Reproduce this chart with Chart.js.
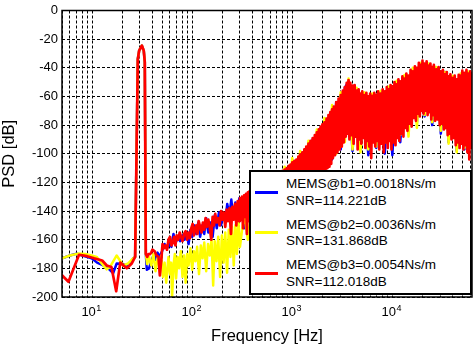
<!DOCTYPE html>
<html>
<head>
<meta charset="utf-8">
<script src="https://cdn.jsdelivr.net/npm/chart.js@4.4.1/dist/chart.umd.min.js"></script>
<style>
  html, body { margin: 0; padding: 0; background: #fff; }
  #wrap { position: relative; width: 474px; height: 348px; font-family: "Liberation Sans", Arial, sans-serif; }
  #psdChart { position: absolute; left: 0; top: 0; }
  #legendBox { position: absolute; left: 249px; top: 170px; width: 223px; height: 125px; box-sizing: border-box; border: 2px solid #000; background: #fff; }
  .swatch { position: absolute; left: 255px; width: 23px; height: 3px; }
  .entry { position: absolute; left: 286px; font-size: 13.5px; line-height: 16.7px; color: #000; white-space: nowrap; }
</style>
</head>
<body>
<div id="wrap">
  <canvas id="psdChart" width="474" height="348"></canvas>
  <div id="legendBox"></div>
</div>
<script>
// MEMS@b1 (blue)
const b1Freq = [5.0, 6.0, 7.0, 8.0, 9.9, 11.2, 12.9, 14.5, 16.2, 17.6, 20.4, 22.9, 25.7, 26.9,
  28.6, 29.5, 31.4, 32.8, 33.6, 34.4,
  35.2, 37, 39, 41, 43, 45, 47, 50, 53, 56, 59, 62, 65, 68, 72, 76, 80, 84, 88, 92, 96, 100,
  105, 110, 115, 120, 126, 132, 138, 145, 152, 160, 168, 176, 185, 194, 204, 214, 224, 235, 246, 258, 270, 283, 296,
  330, 360, 395, 435, 475, 525, 575, 630, 690, 760, 840, 920, 1000, 1100, 1200, 1320, 1450, 1600, 1760, 1920,
  2100, 2300, 2500, 2750, 3050, 3350, 3650, 4000, 4400, 4800, 5250, 5750, 6300, 6900, 7600, 8400, 9200,
  10000, 11000, 12000, 13200, 14500, 16000, 17600, 19200, 21000, 23000, 25000, 27500, 30500, 33500, 36500,
  40000, 44000, 48000, 52500, 57500, 62500];
const b1Psd = [-173, -171, -169.7, -171, -173, -176, -178, -180, -183.4, -176.6, -177, -179, -173, -172,
  -34, -28, -24.5, -28, -36, -170,
  -181, -180, -175, -171, -174, -169, -172, -168, -163, -166, -163, -165, -156, -162, -159, -161, -157, -160, -155, -163, -153, -158,
  -150, -156, -148, -158, -150, -156, -145, -155, -148, -158, -143, -152, -141, -150, -142, -148, -135, -143, -132, -145, -134, -147, -131,
  -152, -129, -158, -126, -140, -122, -138, -119, -135, -115, -132, -110, -130, -105, -128, -98, -125, -90, -120, -82,
  -112, -75, -104, -64, -97, -54, -49.5, -98, -56, -97, -58, -101, -60, -96, -57, -100, -54,
  -101, -50, -92, -46, -85, -41, -78, -37, -74, -37.5, -80, -40, -86, -43, -92,
  -46, -98, -45, -97, -43, -46];

// MEMS@b2 (yellow)
const b2Freq = [5.0, 6.0, 7.2, 8.5, 9.9, 11.1, 12.3, 14.0, 15.1, 17.6, 20.4, 22.9, 25.7, 26.9,
  28.6, 29.5, 31.4, 32.8, 33.6, 34.4,
  35.5, 37, 39, 41, 43, 45, 47, 49, 51, 53, 55, 58, 60, 61.5, 63, 65, 67, 69, 71.5, 74, 77, 80, 83, 86, 89, 92, 96,
  100, 104, 108, 112, 117, 122, 127, 132, 138, 144, 150, 156, 162, 168, 175, 182, 190, 198, 206, 214, 223, 232, 241,
  250, 260, 270, 280, 290, 300,
  330, 360, 395, 435, 475, 525, 575, 630, 690, 760, 840, 920, 1000, 1100, 1200, 1320, 1450, 1600, 1760, 1920,
  2100, 2300, 2500, 2750, 3050, 3350, 3650, 4000, 4400, 4800, 5250, 5750, 6300, 6900, 7600, 8400, 9200,
  10000, 11000, 12000, 13200, 14500, 16000, 17600, 19200, 21000, 23000, 25000, 27500, 30500, 33500, 36500,
  40000, 44000, 48000, 52500, 57500, 62500];
const b2Psd = [-173, -171, -169.7, -170, -171, -172, -176, -180.7, -179, -171, -178, -176.6, -173, -172,
  -34, -28, -24.5, -28, -36, -170,
  -177, -172, -178, -170, -182, -173, -178, -171, -186, -176, -190, -172, -184, -176, -200, -178, -170, -187, -172, -180, -168, -186, -171, -190, -170, -178, -166,
  -181, -168, -175, -165, -184, -164, -173, -162, -182, -163, -171, -160, -192, -161, -175, -158, -186, -157, -176, -155, -183, -153, -172,
  -151, -178, -150, -170, -148, -165,
  -142, -160, -135, -152, -127, -145, -120, -140, -115, -135, -109, -130, -103, -127, -98, -122, -91, -118, -83, -112,
  -75, -108, -66, -100, -57, -92, -47.5, -97, -54, -99, -57, -97, -58, -95, -56, -92, -53,
  -90, -49, -87, -45, -88, -40, -82, -36.5, -73, -37, -78, -39.5, -84, -43, -93,
  -45.5, -99, -44, -96, -42.5, -45];

// MEMS@b3 (red)
const b3Freq = [5.0, 5.8, 7.4, 8.9, 10.5, 12.6, 14.0, 15.6, 17.4, 19.1, 22.2, 24.9, 26.9,
  28.6, 29.5, 31.4, 32.8, 33.6, 34.4,
  35.5, 36.5, 38, 39, 40, 42, 44, 46, 47.5, 49, 50.5, 52, 54, 56, 58, 60, 62, 64, 66, 68, 70, 72.5, 75, 77.5, 80,
  83, 86, 89, 92, 95, 98, 101, 104, 107, 110, 113, 116, 120, 124, 128, 132, 136, 140, 145, 150, 155, 160, 165, 170,
  176, 182, 188, 194, 200, 207, 214, 221, 228, 236, 244, 252, 260, 268, 276, 285, 294,
  300, 307, 315, 322, 330, 337, 345, 352, 360, 367, 375, 385, 395, 405, 415, 425, 435, 445, 455, 465,
  475, 487, 500, 512, 525, 537, 550, 562, 575, 587, 600, 615, 630, 645, 660, 675, 690, 705, 720, 740,
  760, 780, 800, 820, 840, 860, 880, 900, 920, 940, 960, 980, 1000, 1025, 1050, 1075, 1100, 1125, 1150, 1175,
  1200, 1230, 1260, 1290, 1320, 1350, 1380, 1415, 1450, 1485, 1520, 1560, 1600, 1640, 1680, 1720, 1760, 1800, 1840, 1880,
  1920, 1960, 2000, 2050, 2100, 2150, 2200, 2250, 2300, 2350, 2400, 2450, 2500, 2550, 2600, 2675, 2750, 2825, 2900, 2975,
  3050, 3125, 3200, 3275, 3350, 3425, 3500, 3575, 3650, 3725, 3800, 3900, 4000, 4100, 4200, 4300, 4400, 4500, 4600, 4700,
  4800, 4900, 5000, 5125, 5250, 5375, 5500, 5625, 5750, 5875, 6000, 6150, 6300, 6450, 6600, 6750, 6900, 7050, 7200, 7400,
  7600, 7800, 8000, 8200, 8400, 8600, 8800, 9000, 9200, 9400, 9600, 9800, 10000, 10250, 10500, 10750, 11000, 11250, 11500, 11750,
  12000, 12300, 12600, 12900, 13200, 13500, 13800, 14150, 14500, 14850, 15200, 15600, 16000, 16400, 16800, 17200, 17600, 18000, 18400, 18800,
  19200, 19600, 20000, 20500, 21000, 21500, 22000, 22500, 23000, 23500, 24000, 24500, 25000, 25500, 26000, 26750, 27500, 28250, 29000, 29750,
  30500, 31250, 32000, 32750, 33500, 34250, 35000, 35750, 36500, 37250, 38000, 39000, 40000, 41000, 42000, 43000, 44000, 45000, 46000, 47000,
  48000, 49000, 50000, 51250, 52500, 53750, 55000, 56250, 57500, 58750, 60000, 61250, 62500];
const b3Psd = [-184.8, -189.4, -170.5, -171.5, -173, -174.5, -178, -179, -196, -176, -180, -176.6, -172,
  -34, -28, -24.5, -28, -36, -170,
  -172, -170, -170, -169, -167, -168, -171, -172, -185, -175, -163, -166, -164, -167, -160, -158, -164, -162, -158, -164, -157, -160, -155, -158, -161,
  -156, -154, -160, -155, -159, -152, -149, -157, -152, -150, -156, -147, -151, -155, -148, -153, -145, -151, -146, -152, -160, -144, -150, -142,
  -148, -145, -150, -140, -146, -141, -151, -139, -147, -138, -156, -137, -146, -135, -150, -133, -147,
  -131, -146, -130, -152, -129, -144, -128, -156, -127, -147, -126, -142, -125, -140, -124, -139, -123, -138, -122, -137,
  -121, -136, -120.5, -135, -120, -134, -119, -134, -118, -133, -117.5, -133, -117, -132, -116, -131, -115, -131, -114, -130,
  -113, -129, -112, -129, -111, -128, -110, -128, -108.5, -127, -107.5, -127, -106, -126, -105, -126, -104, -125, -102, -125,
  -100.5, -124, -99, -123, -97, -122, -95, -121, -93, -120, -91, -119, -89, -118, -87, -117, -85, -116, -83, -115,
  -81, -114, -79.5, -113, -78, -111, -75.5, -110, -73, -109, -71, -107, -69, -103, -67, -101, -64, -99, -61.5, -97,
  -59, -95, -56, -92, -53.5, -88, -50.5, -86, -48.5, -90, -50.5, -87, -52.5, -93, -52, -88, -56, -97, -55, -90,
  -58, -93, -56.5, -89, -59, -96, -57.5, -91, -60, -95, -58, -103, -59.5, -92, -57.5, -95, -59, -91, -56.5, -97,
  -58, -93, -55, -99, -56.5, -92, -53.5, -96, -55, -91, -52, -97, -53, -92, -50, -94, -51.5, -89, -48, -91,
  -49.5, -86, -46, -88, -47.5, -82, -44, -84, -45.5, -79, -41.5, -81, -42.5, -75, -39, -77, -40, -72, -36.5, -74,
  -38, -70, -35, -72, -37, -70, -35.5, -73, -38.5, -71, -37, -76, -39.5, -73, -38, -77, -41, -76, -39.5, -80,
  -42.5, -79, -41.5, -83, -44.5, -82, -43, -87, -46, -86, -44.5, -90, -47, -89, -45.5, -94, -48, -92, -45, -96,
  -45.5, -93, -42, -97, -43.5, -94, -41.5, -99, -44, -104, -42.5, -96, -44];

const seriesNames = ['MEMS@b1=0.0018Ns/m', 'MEMS@b2=0.0036Ns/m', 'MEMS@b3=0.0054Ns/m'];
const snrLabels = ['SNR=114.221dB', 'SNR=131.868dB', 'SNR=112.018dB'];
const xGridTicks = [5, 6, 7, 8, 9, 10, 20, 30, 40, 50, 60, 70, 80, 90, 100, 200, 300, 400, 500, 600, 700, 800, 900,
  1000, 2000, 3000, 4000, 5000, 6000, 7000, 8000, 9000, 10000, 20000, 30000, 40000, 50000, 60000];
const xLabelExps = [1, 2, 3, 4];

const seriesColors = ['#0000ff', '#ffff00', '#ff0000'];
const fontFamily = '"Liberation Sans", Arial, sans-serif';

const toPoints = (fs, ps) => fs.map((f, i) => ({ x: f, y: ps[i] }));

// solid box round the plot area, drawn over the traces
const framePlugin = {
    id: 'frame',
    afterDatasetsDraw(chart) {
        const { ctx, chartArea: a } = chart;
        ctx.save();
        ctx.strokeStyle = '#000';
        ctx.lineWidth = 1.5;
        ctx.strokeRect(a.left, a.top, a.right - a.left, a.bottom - a.top);
        ctx.restore();
    }
};

// 10^n labels with a raised exponent
const decadeLabels = {
    id: 'decadeLabels',
    afterDraw(chart) {
        const { ctx, scales: { x } } = chart;
        ctx.save();
        ctx.fillStyle = '#000';
        ctx.textBaseline = 'alphabetic';
        xLabelExps.forEach(e => {
            const px = x.getPixelForValue(Math.pow(10, e));
            ctx.font = '13px ' + fontFamily;
            const w1 = ctx.measureText('10').width;
            ctx.font = '9px ' + fontFamily;
            const w2 = ctx.measureText(String(e)).width;
            const left = px - (w1 + w2) / 2 - 1;
            ctx.font = '13px ' + fontFamily;
            ctx.fillText('10', left, 316);
            ctx.font = '9px ' + fontFamily;
            ctx.fillText(String(e), left + w1 + 0.5, 311);
        });
        ctx.restore();
    }
};

Chart.defaults.font.family = fontFamily;
Chart.defaults.color = '#000';

const ctx = document.getElementById('psdChart').getContext('2d');
new Chart(ctx, {
    type: 'line',
    data: {
        datasets: [
            { label: seriesNames[0], data: toPoints(b1Freq, b1Psd), borderColor: seriesColors[0], order: 3 },
            { label: seriesNames[1], data: toPoints(b2Freq, b2Psd), borderColor: seriesColors[1], order: 2 },
            { label: seriesNames[2], data: toPoints(b3Freq, b3Psd), borderColor: seriesColors[2], order: 1, borderWidth: 2.7 }
        ]
    },
    options: {
        responsive: false,
        animation: false,
        devicePixelRatio: 1,
        layout: { padding: { top: 7, right: 2, left: 0, bottom: 0 } },
        plugins: { legend: { display: false }, tooltip: { enabled: false } },
        elements: {
            point: { radius: 0 },
            line: { borderWidth: 2.5, tension: 0, borderJoinStyle: 'round', borderCapStyle: 'round' }
        },
        scales: {
            x: {
                type: 'logarithmic',
                min: 5,
                max: 62500,
                afterBuildTicks: s => { s.ticks = xGridTicks.map(v => ({ value: v })); },
                afterFit: s => { s.height = 51; },
                grid: { color: '#000', lineWidth: 1, drawTicks: false },
                border: { display: false, dash: [3, 2] },
                ticks: { display: false },
                title: {
                    display: true,
                    text: 'Frequency [Hz]',
                    font: { size: 16.5, lineHeight: 1.2 },
                    padding: { top: 0, bottom: 2 }
                }
            },
            y: {
                min: -200,
                max: 0,
                afterFit: s => { s.width = 62; },
                grid: { color: '#000', lineWidth: 1, drawTicks: false },
                border: { display: false, dash: [3, 2] },
                ticks: { stepSize: 20, padding: 4, font: { size: 13, lineHeight: 1 } },
                title: {
                    display: true,
                    text: 'PSD [dB]',
                    font: { size: 16.5, lineHeight: 1.1 },
                    padding: 0
                }
            }
        }
    },
    plugins: [framePlugin, decadeLabels]
});

// legend box inside the lower right of the plot
const legendTops = [176, 216.7, 257.4];
const swatchTops = [191, 231, 272];
const wrap = document.getElementById('wrap');
seriesNames.forEach((name, i) => {
    const sw = document.createElement('div');
    sw.className = 'swatch';
    sw.style.top = swatchTops[i] + 'px';
    sw.style.background = seriesColors[i];
    wrap.appendChild(sw);
    const tx = document.createElement('div');
    tx.className = 'entry';
    tx.style.top = legendTops[i] + 'px';
    tx.innerHTML = name + '<br>' + snrLabels[i];
    wrap.appendChild(tx);
});
</script>
</body>
</html>
